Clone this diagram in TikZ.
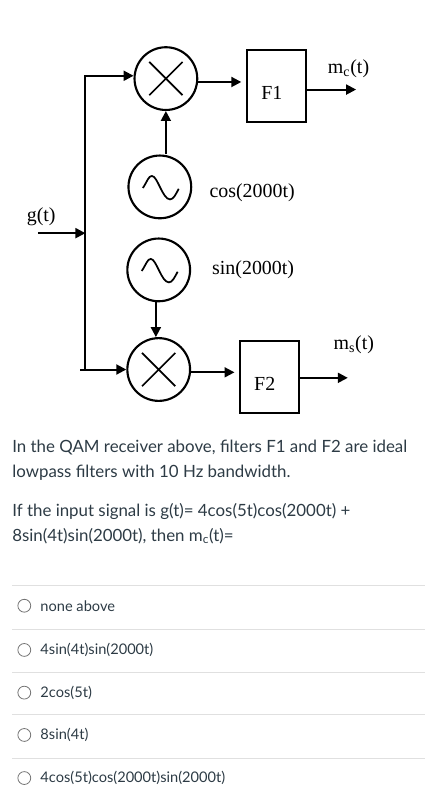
\documentclass[tikz,border=0pt]{standalone}
\usepackage{fontspec}
\setmainfont{Lato}
\newfontfamily\figfont{Liberation Serif}
\usetikzlibrary{arrows.meta,positioning,calc}
\definecolor{bodytext}{RGB}{45,59,69}
\definecolor{rulegray}{RGB}{224,224,224}
\definecolor{radiogray}{RGB}{115,115,115}
\tikzset{
  basecirc/.style={circle,draw=black,line width=1.6pt,minimum size=1.66cm,inner sep=0pt},
  mixnode/.style={basecirc,path picture={
      \draw[line width=1.3pt,shift={(path picture bounding box.center)}]
        (-0.44,-0.44) -- (0.44,0.44) (-0.44,0.44) -- (0.44,-0.44);}},
  oscnode/.style={basecirc,path picture={
      \draw[line width=1.3pt,shift={(path picture bounding box.center)}]
        (-0.45,-0.03) .. controls (-0.33,0.15) and (-0.3,0.29) .. (-0.21,0.29)
        .. controls (-0.06,0.29) and (0.07,-0.33) .. (0.27,-0.33)
        .. controls (0.36,-0.33) and (0.42,-0.2) .. (0.5,-0.05);}},
  filtnode/.style={rectangle,draw=black,line width=1.6pt,minimum width=1.56cm,minimum height=1.9cm,
    inner sep=0pt},
  sigtext/.style={inner sep=0pt,font=\figfont\fontsize{15}{17}\selectfont},
  arr/.style={->,>={Stealth[inset=0pt,length=7.5pt,width=7.5pt]},line width=1.5pt},
  wire/.style={line width=1.5pt},
  bodynode/.style={inner sep=0pt,anchor=north west,align=left,text=bodytext,
    font=\fontsize{12.7}{18.75}\selectfont},
  optnode/.style={inner sep=0pt,anchor=west,text=bodytext,font=\fontsize{11}{13}\selectfont},
  radionode/.style={circle,draw=radiogray,line width=0.6pt,minimum size=0.34cm,inner sep=0pt},
  optrule/.style={draw=rulegray,line width=0.75pt}
}
\begin{document}
\begin{tikzpicture}

  \useasboundingbox (0,0) rectangle (11.25,-21.33);

  %% Upper branch
  \node[mixnode] (mixc) at (4.39,-2.08) {};
  \node[oscnode,below=1.15cm of mixc,xshift=-0.16cm] (oscc) {};
  \node[filtnode,right=1.26cm of mixc,yshift=-0.19cm] (fone) {};
  \node[sigtext,xshift=-0.12cm,yshift=-0.18cm] at (fone) {F1};

  %% Lower branch
  \node[oscnode,below=0.48cm of oscc,xshift=-0.03cm] (oscs) {};
  \node[mixnode,below=0.92cm of oscs] (mixs) {};
  \node[filtnode,right=1.27cm of mixs,yshift=-0.19cm] (ftwo) {};
  \node[sigtext,xshift=-0.13cm,yshift=-0.2cm] at (ftwo) {F2};

  %% Free ends of the wires
  \coordinate (gin) at (1.0,-6.17);
  \coordinate (bus) at (2.26,-6.17);
  \coordinate[left=1.22cm of mixs.west] (busin);
  \coordinate[right=1.3cm of fone.east,yshift=-0.1cm] (mcend);
  \coordinate[right=1.26cm of ftwo.east,yshift=-0.03cm] (msend);

  %% Signal labels
  \node[sigtext,above=0.3cm of mcend,xshift=-0.2cm] (mclabel) {m\textsubscript{c}(t)};
  \node[sigtext,above=0.64cm of msend,xshift=0.16cm] (mslabel) {m\textsubscript{s}(t)};
  \node[sigtext,above=0.2cm of gin,xshift=0.09cm] (glabel) {g(t)};
  \node[sigtext,right=0.45cm of oscc,yshift=-0.15cm] (coslabel) {cos(2000t)};
  \node[sigtext,right=0.55cm of oscs] (sinlabel) {sin(2000t)};

  %% ── ARROWS ──
  \draw[arr] (gin) -- (bus);
  \draw[arr] (bus) |- (mixc.175);
  \draw[wire] (bus) -- (bus |- busin);
  \draw[arr] (busin) -- (mixs.west);
  \draw[arr] (oscc.north -| mixc.south) -- (mixc.south);
  \draw[arr] (oscs.265) -- (oscs.265 |- mixs.north);
  \draw[arr,shorten >=3.5pt] (mixc.-6) -- (mixc.-6 -| fone.west);
  \draw[arr,shorten >=3.5pt] (mixs.-5) -- (mixs.-5 -| ftwo.west);
  \draw[arr] (fone.east |- mcend) -- (mcend);
  \draw[arr] (ftwo.east |- msend) -- (msend);

  %% Question
  \node[bodynode] (intro) at (0.32,-11.63)
    {In the QAM receiver above, filters F1 and F2 are ideal\\
     lowpass filters with 10 Hz bandwidth.};
  \node[bodynode] (given) at (0.32,-13.32)
    {If the input signal is g(t)= 4cos(5t)cos(2000t) +\\
     8sin(4t)sin(2000t), then m\textsubscript{c}(t)=};

  %% Answer rows
  \foreach \name/\ypos/\answer in {a/-16.0/none above,
      b/-17.17/4sin(4t)sin(2000t),
      c/-18.3/2cos(5t),
      d/-19.42/8sin(4t),
      e/-20.56/4cos(5t)cos(2000t)sin(2000t)}{
    \node[radionode] (radio\name) at (0.643,\ypos-0.03) {};
    \node[optnode,right=0.24cm of radio\name] (opt\name) {\answer};
    \coordinate (ruleL\name) at (0.32,\ypos+0.5);
    \coordinate (ruleR\name) at (11.25,\ypos+0.5);
    \draw[optrule] (ruleL\name) -- (ruleR\name);
  }

\end{tikzpicture}
\end{document}
